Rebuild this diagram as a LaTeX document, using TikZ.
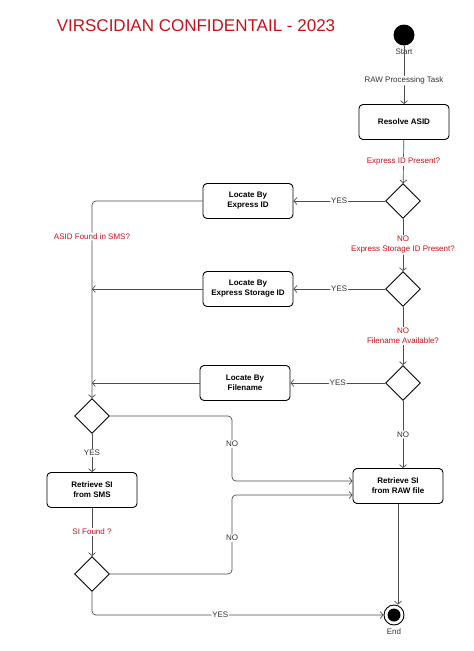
\documentclass[tikz,border=0pt]{standalone}
\usepackage{fontspec}
\setmainfont{Liberation Sans}
\usetikzlibrary{arrows.meta}
\usetikzlibrary{shapes.geometric}
\definecolor{confred}{RGB}{200,16,24}
\tikzset{
	activity/.style={draw, line width=0.9pt, rounded corners=4pt, minimum width=90pt, minimum height=35pt, align=center, font=\fontsize{8}{10}\selectfont\bfseries},
	choice/.style={draw, line width=0.9pt, diamond, minimum width=35pt, minimum height=35pt, inner sep=0pt},
	flow/.style={draw=black!70, line width=0.7pt, ->, rounded corners=4pt},
	lbl/.style={fill=white, inner sep=1pt, align=center, text=black!80, font=\fontsize{8}{10}\selectfont},
	cond/.style={lbl, text=confred},
}

\begin{document}
\begin{tikzpicture}[x=1pt, y=-1pt, >={Straight Barb[length=3pt,width=7pt]}]
	\useasboundingbox (0,0) rectangle (474,651);
	\node[text=confred, font=\fontsize{17}{20}\selectfont] (title) at (196,26) {VIRSCIDIAN CONFIDENTAIL - 2023};
	%
	\node[circle, fill=black, minimum size=21pt, inner sep=0pt] (start) at (404,35) {};
	\node[lbl, fill=none] (startlbl) at (404,52) {Start};
	\node[activity] (resolve) at (404,122) {Resolve ASID};
	\node[choice] (qexid) at (403,201) {};
	\node[choice] (qesid) at (403,289) {};
	\node[choice] (qfname) at (403,383) {};
	\node[activity] (byexid) at (248,201) {Locate By\\Express ID};
	\node[activity] (byesid) at (248,289) {Locate By\\Express Storage ID};
	\node[activity] (byfname) at (245,383) {Locate By\\Filename};
	%
	\node[choice] (qfound) at (92,416) {};
	\node[activity] (fromsms) at (92,490) {Retrieve SI\\from SMS};
	\node[choice] (qsi) at (92,574) {};
	\node[activity] (raw) at (398,486) {Retrieve SI\\from RAW file};
	\node[circle, draw, line width=0.9pt, minimum size=20pt, inner sep=0pt] (finish) at (394,615) {};
	\node[circle, fill=black, minimum size=13pt, inner sep=0pt] (finishdot) at (finish) {};
	\node[lbl, fill=none] (endlbl) at (394,632) {End};
	%
	\draw[flow] (start) -- node[lbl, pos=0.6] {RAW Processing Task} (resolve);
	\draw[flow] (resolve) -- node[cond] {Express ID Present?} (qexid);
	\draw[flow] (qexid) -- node[lbl] {YES} (byexid);
	\draw[flow] (qexid) -- node[cond] {NO\\Express Storage ID Present?} (qesid);
	\draw[flow] (qesid) -- node[lbl] {YES} (byesid);
	\draw[flow] (qesid) -- node[cond] {NO\\Filename Available?} (qfname);
	\draw[flow] (qfname) -- node[lbl] {YES} (byfname);
	\draw[flow] (qfname) -- node[lbl] {NO} (qfname |- raw.north);
	%
	\draw[flow] (byexid.west) -| node[cond, pos=0.59] {ASID Found in SMS?} (qfound.north);
	\draw[flow] (byesid.west) -- (byesid.west -| qfound.north);
	\draw[flow] (byfname.west) -- (byfname.west -| qfound.north);
	\draw[flow] (qfound) -- node[lbl] {YES} (fromsms);
	\draw[flow] (qfound.east) -| (232,444) node[lbl] {NO} |- ([yshift=5pt]raw.west);
	%
	\draw[flow] (fromsms) -- node[cond] {SI Found ?} (qsi);
	\draw[flow] (qsi.east) -| (232,538) node[lbl] {NO} |- ([yshift=-9pt]raw.west);
	\draw[flow] (qsi.south) |- node[lbl, pos=0.72] {YES} (finish.west);
	\draw[flow] (raw.south) -- (raw.south |- finish.north);
\end{tikzpicture}
\end{document}
